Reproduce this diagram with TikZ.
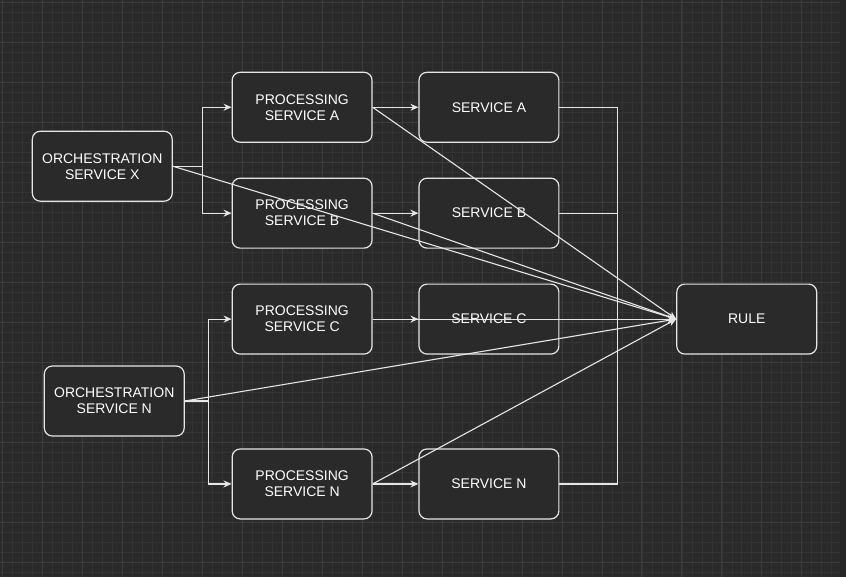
\documentclass[tikz,border=0pt]{standalone}
\usepackage{fontspec}
\setmainfont{Liberation Sans}
\usetikzlibrary{arrows.meta}
\definecolor{bg}{HTML}{2A2A2A}
\definecolor{gridm}{HTML}{333333}
\definecolor{gridM}{HTML}{3C3C3C}
\definecolor{ln}{HTML}{E6E6E6}
\begin{document}
\begin{tikzpicture}[x=1pt,y=-1pt,
  box/.style={draw=ln,line width=1.2pt,fill=bg,rounded corners=8pt,minimum width=140pt,minimum height=70pt,text=white,font=\fontsize{14}{16}\selectfont,align=center,inner sep=0pt},
  con/.style={draw=ln,line width=1.1pt},
  arr/.style={con,-{Stealth[length=8pt,width=7pt]}}]
\fill[bg] (0,0) rectangle (846,577);
\foreach \x in {2,12,...,842} \draw[gridm,line width=0.5pt] (\x,0) -- (\x,577);
\foreach \y in {2,12,...,572} \draw[gridm,line width=0.5pt] (0,\y) -- (846,\y);
\foreach \x in {2,42,...,842} \draw[gridM,line width=0.7pt] (\x,0) -- (\x,577);
\foreach \y in {2,42,...,572} \draw[gridM,line width=0.7pt] (0,\y) -- (846,\y);
\fill[black!85] (840,0) rectangle (846,577);
\useasboundingbox (0,0) rectangle (846,577);

\node[box] (ox) at (102,166) {ORCHESTRATION\\SERVICE X};
\node[box] (on) at (114,401) {ORCHESTRATION\\SERVICE N};
\node[box] (pa) at (302,107) {PROCESSING\\SERVICE A};
\node[box] (pb) at (302,213) {PROCESSING\\SERVICE B};
\node[box] (pc) at (302,319) {PROCESSING\\SERVICE C};
\node[box] (pn) at (302,484) {PROCESSING\\SERVICE N};
\node[box] (sa) at (489,107) {SERVICE A};
\node[box] (sb) at (489,213) {SERVICE B};
\node[box] (sc) at (489,319) {SERVICE C};
\node[box] (sn) at (489,484) {SERVICE N};
\node[box] (ru) at (747,319) {RULE};
\coordinate (jx) at (202,166);
\coordinate (jn) at (208,401);
\coordinate (jr) at (618,319);

\draw[arr] (ox.east) -- (jx) |- (pa.west);
\draw[arr] (ox.east) -- (jx) |- (pb.west);
\draw[arr] (on.east) -- (jn) |- (pc.west);
\draw[arr] (on.east) -- (jn) |- (pn.west);
\draw[arr] (pa) -- (sa);
\draw[arr] (pb) -- (sb);
\draw[arr] (pc) -- (sc);
\draw[arr] (pn) -- (sn);
\draw[arr] (sa.east) -| (jr) -- (ru.west);
\draw[arr] (sb.east) -| (jr) -- (ru.west);
\draw[arr] (sn.east) -| (jr) -- (ru.west);
\draw[arr] (sc.east) -- (ru.west);
\draw[arr] (ox.east) -- (ru.west);
\draw[arr] (on.east) -- (ru.west);
\draw[arr] (pa.east) -- (ru.west);
\draw[arr] (pb.east) -- (ru.west);
\draw[arr] (pc.east) -- (ru.west);
\draw[arr] (pn.east) -- (ru.west);
\end{tikzpicture}
\end{document}
